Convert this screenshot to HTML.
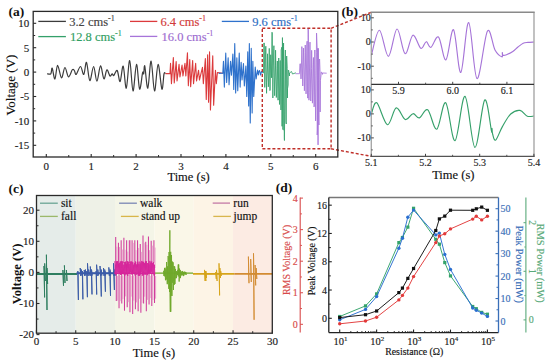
<!DOCTYPE html>
<html><head><meta charset="utf-8"><style>
html,body{margin:0;padding:0;background:#fff;}
svg{display:block;font-family:"Liberation Serif", serif;}
</style></head><body>
<svg width="550" height="361" viewBox="0 0 550 361">
<rect width="550" height="361" fill="#fff"/>
<path d="M47.1,73.8 C47.72,73.8 49.95,74.75 50.8,73.8 C51.65,72.85 51.52,67.23 52.2,68.1 C52.88,68.97 54,79.45 54.9,79 C55.8,78.55 56.5,65.58 57.6,65.4 C58.7,65.22 60.28,77.55 61.5,77.9 C62.72,78.25 63.73,67.68 64.9,67.5 C66.07,67.32 67.25,76.43 68.5,76.8 C69.75,77.17 71.4,70.7 72.4,69.7 C73.4,68.7 73.87,70.02 74.5,70.8 C75.13,71.58 75.2,75.12 76.2,74.4 C77.2,73.68 79.23,66.5 80.5,66.5 C81.77,66.5 82.8,75.08 83.8,74.4 C84.8,73.72 85.5,61.37 86.5,62.4 C87.5,63.43 88.62,79.92 89.8,80.6 C90.98,81.28 92.42,66.4 93.6,66.5 C94.78,66.6 95.75,81.3 96.9,81.2 C98.05,81.1 99.33,66.3 100.5,65.9 C101.67,65.5 102.83,78.13 103.9,78.8 C104.97,79.47 105.88,70.37 106.9,69.9 C107.92,69.43 109.12,75.35 110,76 C110.88,76.65 111.57,73.88 112.2,73.8 C112.83,73.72 112.97,76.05 113.8,75.5 C114.63,74.95 116.15,69.48 117.2,70.5 C118.25,71.52 119.1,82.33 120.1,81.6 C121.1,80.87 122.17,65 123.2,66.1 C124.23,67.2 125.22,89.13 126.3,88.2 C127.38,87.27 128.58,60.03 129.7,60.5 C130.82,60.97 131.87,90.35 133,91 C134.13,91.65 135.4,64.72 136.5,64.4 C137.6,64.08 138.58,87.72 139.6,89.1 C140.62,90.48 141.92,75.25 142.6,72.7 C143.28,70.15 143.33,74.9 143.7,73.8 C144.07,72.7 144.12,63.7 144.8,66.1 C145.48,68.5 146.75,89.03 147.8,88.2 C148.85,87.37 149.98,60.63 151.1,61.1 C152.22,61.57 153.33,90.45 154.5,91 C155.67,91.55 156.87,64.72 158.1,64.4 C159.33,64.08 160.92,87.5 161.9,89.1 C162.88,90.7 163.4,76.63 164,74 C164.6,71.37 165.25,73.42 165.5,73.3" fill="none" stroke="#3c3c3c" stroke-width="1.2" stroke-linejoin="round" />
<polyline points="165.5,73.6 170,73.6 170.55,63.4 171.45,83.8 173.35,57.6 174.25,82.9 176.15,61.5 177.05,80.9 179.05,64.4 179.95,77 182.05,65 182.95,76 184.95,63.4 185.85,76 187.45,52.8 188.35,85.8 189.75,59.6 190.65,86.7 192.65,60.5 193.55,83.8 195.65,63.4 196.55,80.9 198.55,70.2 199.45,80 202.45,67.3 203.35,83.8 205.35,58.6 206.25,99.4 207.65,54.7 208.55,102.3 209.55,51.8 210.45,110 212.75,55.7 213.65,105.2 215.45,70.2 216.35,83.8 217.4,72.5 223,73.2" fill="none" stroke="#dc3a3c" stroke-width="1.1" stroke-linejoin="round" />
<polyline points="218.7,73.4 222.8,73.2 223.45,61.2 224.35,87.1 225.75,53 226.65,82.4 228.15,57.7 229.05,84.8 230.55,61.2 231.45,75.3 232.85,54.1 233.75,89.5 234.75,43.5 235.65,93 236.85,57.7 237.75,90.7 239.25,53 240.15,87.1 241.15,62.4 242.05,80 243.45,63.6 244.35,86 245.85,66 246.75,96.5 247.75,51.8 248.65,106 249.35,43.5 250.25,123 251.25,48.2 252.15,113 252.85,61.2 253.75,96.5 255.25,67 256.15,78.9 257.55,70 258.45,75 258.5,72.4 259.5,70.5 260.5,75 261.5,71.5 263.5,72.6" fill="none" stroke="#2f72cc" stroke-width="1.1" stroke-linejoin="round" />
<polyline points="262.5,72.9 263.5,72.8 263.85,43 264.3,43 264.75,87.4 265.1,77.99 265.65,46.6 265.9,46.2 266.55,93.3 266.7,82.41 267.5,64.98 267.55,53.8 268.3,86.87 268.45,86.2 269.1,59.94 269.25,48.4 269.9,90.59 270.15,90 270.7,54.76 271.5,77.77 271.95,32.2 272.3,32.8 272.85,98 273.1,77.85 273.75,48.4 273.9,45.7 274.65,95.7 274.7,91.75 275.5,65.88 275.55,50.2 276.3,97.5 276.45,97 277.1,68.29 277.35,61 277.9,100.2 278.25,100 278.7,59.14 278.75,58 279.5,104.46 279.65,102.8 280.05,61 280.3,60.54 280.95,110 281.1,94.02 281.15,50 281.9,47.14 282.05,126.3 282.45,37.6 282.7,129.43 283.35,130 283.5,46.65 283.55,43 284.3,137.75 284.45,140.5 285.1,61.09 285.35,50 285.9,121.83 286.25,124 286.55,58 286.7,56 287.25,68.3 287.45,98 287.5,88.71 288.15,85 288.3,70.62 288.55,70 289.45,76 289.5,73 291.5,71.5 292.5,74 295.9,72.8" fill="none" stroke="#34a06a" stroke-width="0.85" stroke-linejoin="round" />
<polyline points="295.5,73.7 299.5,73.7 299.95,63.8 300.4,63.8 300.85,79 301.2,78.47 301.85,46.6 302,49.32 302.75,86 302.8,83.2 303.55,48.5 303.6,48.05 304.4,90.75 304.45,90 305.2,52.4 305.25,45 306,93.96 306.15,93.2 306.8,44.88 307.15,41.2 307.6,98 308.05,98 308.05,28.6 308.4,30 308.95,100.2 309.2,92.63 309.85,44.8 310,42.1 310.75,101 310.8,98.88 311.6,68.38 311.65,50.3 312.4,103.17 312.55,102.6 313.2,64.91 313.45,57.5 314,106.93 314.35,106 314.8,54.07 314.85,50 315.6,120.94 315.75,119 316.4,52.17 316.55,33.1 317.15,48 317.2,134.97 317.45,130 318,48.22 318.05,144.9 318.05,48.5 318.8,121.75 318.95,125 319.25,60 319.6,59.04 320.05,72 320.15,112 320.4,80.5 320.95,76 321.2,72.16 321.55,72 322.45,74.4 322.5,73 326.7,73.2" fill="none" stroke="#a774d9" stroke-width="0.85" stroke-linejoin="round" />
<rect x="262.3" y="28.3" width="68.8" height="120.5" fill="none" stroke="#c0302a" stroke-width="1.4" stroke-dasharray="3,2"/>
<line x1="331.1" y1="28.3" x2="371.5" y2="12.2" stroke="#c0302a" stroke-width="1.4" stroke-dasharray="3,2"/>
<line x1="331.1" y1="148.8" x2="371.2" y2="156.3" stroke="#c0302a" stroke-width="1.4" stroke-dasharray="3,2"/>
<rect x="33.2" y="11.4" width="304.6" height="145.6" fill="none" stroke="#2a2a2a" stroke-width="1.3"/>
<line x1="33.2" y1="23.3" x2="36.2" y2="23.3" stroke="#2a2a2a" stroke-width="1.1" />
<text x="29.3" y="27.1" font-size="11" fill="#222" stroke="#222" stroke-width="0.15" text-anchor="end" font-weight="normal" >10</text>
<line x1="33.2" y1="47.7" x2="36.2" y2="47.7" stroke="#2a2a2a" stroke-width="1.1" />
<text x="29.3" y="51.5" font-size="11" fill="#222" stroke="#222" stroke-width="0.15" text-anchor="end" font-weight="normal" >5</text>
<line x1="33.2" y1="72.1" x2="36.2" y2="72.1" stroke="#2a2a2a" stroke-width="1.1" />
<text x="29.3" y="75.9" font-size="11" fill="#222" stroke="#222" stroke-width="0.15" text-anchor="end" font-weight="normal" >0</text>
<line x1="33.2" y1="96.5" x2="36.2" y2="96.5" stroke="#2a2a2a" stroke-width="1.1" />
<text x="29.3" y="100.3" font-size="11" fill="#222" stroke="#222" stroke-width="0.15" text-anchor="end" font-weight="normal" >-5</text>
<line x1="33.2" y1="120.9" x2="36.2" y2="120.9" stroke="#2a2a2a" stroke-width="1.1" />
<text x="29.3" y="124.7" font-size="11" fill="#222" stroke="#222" stroke-width="0.15" text-anchor="end" font-weight="normal" >-10</text>
<line x1="33.2" y1="145.3" x2="36.2" y2="145.3" stroke="#2a2a2a" stroke-width="1.1" />
<text x="29.3" y="149.1" font-size="11" fill="#222" stroke="#222" stroke-width="0.15" text-anchor="end" font-weight="normal" >-15</text>
<line x1="33.2" y1="35.5" x2="35.2" y2="35.5" stroke="#2a2a2a" stroke-width="1.0" />
<line x1="33.2" y1="59.9" x2="35.2" y2="59.9" stroke="#2a2a2a" stroke-width="1.0" />
<line x1="33.2" y1="84.3" x2="35.2" y2="84.3" stroke="#2a2a2a" stroke-width="1.0" />
<line x1="33.2" y1="108.7" x2="35.2" y2="108.7" stroke="#2a2a2a" stroke-width="1.0" />
<line x1="33.2" y1="133.1" x2="35.2" y2="133.1" stroke="#2a2a2a" stroke-width="1.0" />
<line x1="46.3" y1="157" x2="46.3" y2="154" stroke="#2a2a2a" stroke-width="1.1" />
<text x="46.3" y="169.6" font-size="11" fill="#222" stroke="#222" stroke-width="0.15" text-anchor="middle" font-weight="normal" >0</text>
<line x1="91.2" y1="157" x2="91.2" y2="154" stroke="#2a2a2a" stroke-width="1.1" />
<text x="91.2" y="169.6" font-size="11" fill="#222" stroke="#222" stroke-width="0.15" text-anchor="middle" font-weight="normal" >1</text>
<line x1="136.1" y1="157" x2="136.1" y2="154" stroke="#2a2a2a" stroke-width="1.1" />
<text x="136.1" y="169.6" font-size="11" fill="#222" stroke="#222" stroke-width="0.15" text-anchor="middle" font-weight="normal" >2</text>
<line x1="181" y1="157" x2="181" y2="154" stroke="#2a2a2a" stroke-width="1.1" />
<text x="181" y="169.6" font-size="11" fill="#222" stroke="#222" stroke-width="0.15" text-anchor="middle" font-weight="normal" >3</text>
<line x1="225.9" y1="157" x2="225.9" y2="154" stroke="#2a2a2a" stroke-width="1.1" />
<text x="225.9" y="169.6" font-size="11" fill="#222" stroke="#222" stroke-width="0.15" text-anchor="middle" font-weight="normal" >4</text>
<line x1="270.8" y1="157" x2="270.8" y2="154" stroke="#2a2a2a" stroke-width="1.1" />
<text x="270.8" y="169.6" font-size="11" fill="#222" stroke="#222" stroke-width="0.15" text-anchor="middle" font-weight="normal" >5</text>
<line x1="315.7" y1="157" x2="315.7" y2="154" stroke="#2a2a2a" stroke-width="1.1" />
<text x="315.7" y="169.6" font-size="11" fill="#222" stroke="#222" stroke-width="0.15" text-anchor="middle" font-weight="normal" >6</text>
<line x1="68.75" y1="157" x2="68.75" y2="155" stroke="#2a2a2a" stroke-width="1.0" />
<line x1="113.65" y1="157" x2="113.65" y2="155" stroke="#2a2a2a" stroke-width="1.0" />
<line x1="158.55" y1="157" x2="158.55" y2="155" stroke="#2a2a2a" stroke-width="1.0" />
<line x1="203.45" y1="157" x2="203.45" y2="155" stroke="#2a2a2a" stroke-width="1.0" />
<line x1="248.35" y1="157" x2="248.35" y2="155" stroke="#2a2a2a" stroke-width="1.0" />
<line x1="293.25" y1="157" x2="293.25" y2="155" stroke="#2a2a2a" stroke-width="1.0" />
<text x="188.6" y="181" font-size="12.5" fill="#111" stroke="#111" stroke-width="0.15" text-anchor="middle" font-weight="normal" >Time (s)</text>
<text transform="translate(14.6,85) rotate(-90)" font-size="13" fill="#111" stroke="#111" stroke-width="0.15" text-anchor="middle" font-weight="normal">Voltage (V)</text>
<text x="8.6" y="16.2" font-size="13.5" fill="#111" text-anchor="start" font-weight="bold" >(a)</text>
<line x1="38.3" y1="21.4" x2="65.9" y2="21.4" stroke="#3c3c3c" stroke-width="1.3" />
<text x="69.2" y="25.7" font-size="12.5" fill="#444" stroke="#444" stroke-width="0.15">3.2 cms<tspan font-size="8" dy="-5">-1</tspan></text>
<line x1="130" y1="21.4" x2="157.3" y2="21.4" stroke="#dc3a3c" stroke-width="1.3" />
<text x="160.4" y="25.7" font-size="12.5" fill="#d23a3a" stroke="#d23a3a" stroke-width="0.15">6.4 cms<tspan font-size="8" dy="-5">-1</tspan></text>
<line x1="221.8" y1="21.4" x2="249" y2="21.4" stroke="#2f72cc" stroke-width="1.3" />
<text x="252.2" y="25.7" font-size="12.5" fill="#2f6fc4" stroke="#2f6fc4" stroke-width="0.15">9.6 cms<tspan font-size="8" dy="-5">-1</tspan></text>
<line x1="38.3" y1="36.6" x2="65.9" y2="36.6" stroke="#34a06a" stroke-width="1.3" />
<text x="69.9" y="40.9" font-size="12.5" fill="#2f9e62" stroke="#2f9e62" stroke-width="0.15">12.8 cms<tspan font-size="8" dy="-5">-1</tspan></text>
<line x1="130" y1="36.4" x2="157.3" y2="36.4" stroke="#a774d9" stroke-width="1.3" />
<text x="161.5" y="40.7" font-size="12.5" fill="#9d6cd0" stroke="#9d6cd0" stroke-width="0.15">16.0 cms<tspan font-size="8" dy="-5">-1</tspan></text>
<path d="M371.3,55.5 C372.65,51.3 376.55,30.15 379.4,30.3 C382.25,30.45 385.47,56.62 388.4,56.4 C391.33,56.18 394.22,29.45 397,29 C399.78,28.55 402.45,52.67 405.1,53.7 C407.75,54.73 410.28,36.1 412.9,35.2 C415.52,34.3 418.58,47.22 420.8,48.3 C423.02,49.38 424.52,41.85 426.2,41.7 C427.88,41.55 428.85,48.18 430.9,47.4 C432.95,46.62 436,34.92 438.5,37 C441,39.08 443.4,61.1 445.9,59.9 C448.4,58.7 451.02,27.72 453.5,29.8 C455.98,31.88 458.27,73.62 460.8,72.4 C463.33,71.18 466,21.47 468.7,22.5 C471.4,23.53 473.88,77.15 477,78.6 C480.12,80.05 484.4,35.97 487.4,31.2 C490.4,26.43 492.6,45.73 495,50 C497.4,54.27 500.58,56.38 501.8,56.8 C503.02,57.22 502.1,52.77 502.3,52.5 C502.5,52.23 502.3,54.83 503,55.2 C503.7,55.57 504.87,55.3 506.5,54.7 C508.13,54.1 510.88,52.88 512.8,51.6 C514.72,50.32 516.27,48.38 518,47 C519.73,45.62 521.53,44.07 523.2,43.3 C524.87,42.53 526.2,42.62 528,42.4 C529.8,42.18 533,42.07 534,42" fill="none" stroke="#a674d8" stroke-width="1.15" stroke-linejoin="round" />
<path d="M371.3,114 C372.22,112.13 374.12,101.02 376.8,102.8 C379.48,104.58 384.17,123.85 387.4,124.7 C390.63,125.55 393.22,108.77 396.2,107.9 C399.18,107.03 402.5,118.53 405.3,119.5 C408.1,120.47 410.65,113.97 413,113.7 C415.35,113.43 416.95,118.55 419.4,117.9 C421.85,117.25 424.8,107.92 427.7,109.8 C430.6,111.68 433.8,130.38 436.8,129.2 C439.8,128.02 442.67,100.78 445.7,102.7 C448.73,104.62 451.78,141.75 455,140.7 C458.22,139.65 461.68,95.28 465,96.4 C468.32,97.52 471.62,146.8 474.9,147.4 C478.18,148 481.93,102.73 484.7,100 C487.47,97.27 490.28,126.25 491.5,131 C492.72,135.75 491.82,128 492,128.5 C492.18,129 491.98,132.07 492.6,134 C493.22,135.93 494.07,141.33 495.7,140.1 C497.33,138.87 499.9,130.95 502.4,126.6 C504.9,122.25 507.77,116.7 510.7,114 C513.63,111.3 517.23,110.03 520,110.4 C522.77,110.77 524.97,115.27 527.3,116.2 C529.63,117.13 532.88,116.03 534,116" fill="none" stroke="#35a06a" stroke-width="1.15" stroke-linejoin="round" />
<path d="M371.3,156.3 L371.3,12.2 M534.0,12.2 L534.0,156.3" fill="none" stroke="#a8a8a8" stroke-width="1.4"/>
<line x1="370.6" y1="12.2" x2="534.7" y2="12.2" stroke="#8a8a8a" stroke-width="1.5" />
<line x1="370.6" y1="156.3" x2="534.7" y2="156.3" stroke="#555" stroke-width="1.3" />
<line x1="371.3" y1="84.3" x2="534" y2="84.3" stroke="#333" stroke-width="1.2" />
<line x1="371.3" y1="17.8" x2="373.8" y2="17.8" stroke="#444" stroke-width="1.0" />
<text x="370.8" y="21.2" font-size="10" fill="#222" stroke="#222" stroke-width="0.15" text-anchor="end" font-weight="normal" >10</text>
<line x1="371.3" y1="42" x2="373.8" y2="42" stroke="#444" stroke-width="1.0" />
<text x="370.8" y="45.4" font-size="10" fill="#222" stroke="#222" stroke-width="0.15" text-anchor="end" font-weight="normal" >0</text>
<line x1="371.3" y1="66.2" x2="373.8" y2="66.2" stroke="#444" stroke-width="1.0" />
<text x="370.8" y="69.6" font-size="10" fill="#222" stroke="#222" stroke-width="0.15" text-anchor="end" font-weight="normal" >-10</text>
<line x1="371.3" y1="29.9" x2="372.8" y2="29.9" stroke="#444" stroke-width="0.9" />
<line x1="371.3" y1="54.1" x2="372.8" y2="54.1" stroke="#444" stroke-width="0.9" />
<line x1="371.3" y1="78.3" x2="372.8" y2="78.3" stroke="#444" stroke-width="0.9" />
<line x1="371.3" y1="89.9" x2="373.8" y2="89.9" stroke="#444" stroke-width="1.0" />
<text x="370.8" y="93.3" font-size="10" fill="#222" stroke="#222" stroke-width="0.15" text-anchor="end" font-weight="normal" >10</text>
<line x1="371.3" y1="113.9" x2="373.8" y2="113.9" stroke="#444" stroke-width="1.0" />
<text x="370.8" y="117.3" font-size="10" fill="#222" stroke="#222" stroke-width="0.15" text-anchor="end" font-weight="normal" >0</text>
<line x1="371.3" y1="137.9" x2="373.8" y2="137.9" stroke="#444" stroke-width="1.0" />
<text x="370.8" y="141.3" font-size="10" fill="#222" stroke="#222" stroke-width="0.15" text-anchor="end" font-weight="normal" >-10</text>
<line x1="371.3" y1="101.9" x2="372.8" y2="101.9" stroke="#444" stroke-width="0.9" />
<line x1="371.3" y1="125.9" x2="372.8" y2="125.9" stroke="#444" stroke-width="0.9" />
<line x1="371.3" y1="149.9" x2="372.8" y2="149.9" stroke="#444" stroke-width="0.9" />
<line x1="398.51" y1="84.3" x2="398.51" y2="81.8" stroke="#444" stroke-width="1.0" />
<text x="398.51" y="93.9" font-size="10" fill="#222" stroke="#222" stroke-width="0.15" text-anchor="middle" font-weight="normal" >5.9</text>
<line x1="452.71" y1="84.3" x2="452.71" y2="81.8" stroke="#444" stroke-width="1.0" />
<text x="452.71" y="93.9" font-size="10" fill="#222" stroke="#222" stroke-width="0.15" text-anchor="middle" font-weight="normal" >6.0</text>
<line x1="506.91" y1="84.3" x2="506.91" y2="81.8" stroke="#444" stroke-width="1.0" />
<text x="506.91" y="93.9" font-size="10" fill="#222" stroke="#222" stroke-width="0.15" text-anchor="middle" font-weight="normal" >6.1</text>
<line x1="425.61" y1="84.3" x2="425.61" y2="82.7" stroke="#444" stroke-width="0.9" />
<line x1="479.81" y1="84.3" x2="479.81" y2="82.7" stroke="#444" stroke-width="0.9" />
<line x1="371.3" y1="156.3" x2="371.3" y2="153.8" stroke="#444" stroke-width="1.0" />
<text x="371.3" y="165.5" font-size="10" fill="#222" stroke="#222" stroke-width="0.15" text-anchor="middle" font-weight="normal" >5.1</text>
<line x1="425.5" y1="156.3" x2="425.5" y2="153.8" stroke="#444" stroke-width="1.0" />
<text x="425.5" y="165.5" font-size="10" fill="#222" stroke="#222" stroke-width="0.15" text-anchor="middle" font-weight="normal" >5.2</text>
<line x1="479.7" y1="156.3" x2="479.7" y2="153.8" stroke="#444" stroke-width="1.0" />
<text x="479.7" y="165.5" font-size="10" fill="#222" stroke="#222" stroke-width="0.15" text-anchor="middle" font-weight="normal" >5.3</text>
<line x1="533.9" y1="156.3" x2="533.9" y2="153.8" stroke="#444" stroke-width="1.0" />
<text x="533.9" y="165.5" font-size="10" fill="#222" stroke="#222" stroke-width="0.15" text-anchor="middle" font-weight="normal" >5.4</text>
<line x1="398.4" y1="156.3" x2="398.4" y2="154.8" stroke="#444" stroke-width="0.9" />
<line x1="452.6" y1="156.3" x2="452.6" y2="154.8" stroke="#444" stroke-width="0.9" />
<line x1="506.8" y1="156.3" x2="506.8" y2="154.8" stroke="#444" stroke-width="0.9" />
<text x="453.3" y="179" font-size="12.5" fill="#111" stroke="#111" stroke-width="0.15" text-anchor="middle" font-weight="normal" >Time (s)</text>
<text x="341.5" y="16.2" font-size="13.5" fill="#111" text-anchor="start" font-weight="bold" >(b)</text>
<rect x="36.5" y="195.5" width="39.23" height="137.7" fill="#e5ece9"/>
<rect x="75.73" y="195.5" width="39.33" height="137.7" fill="#eef1e7"/>
<rect x="115.06" y="195.5" width="39.33" height="137.7" fill="#f4f5e7"/>
<rect x="154.39" y="195.5" width="39.33" height="137.7" fill="#faf7e8"/>
<rect x="193.72" y="195.5" width="39.33" height="137.7" fill="#fdf4e6"/>
<rect x="233.05" y="195.5" width="39.25" height="137.7" fill="#fcebe3"/>
<line x1="36.5" y1="274" x2="77" y2="274" stroke="#2f7f60" stroke-width="2.0" />
<polyline points="43.3,274 44.3,274 44,266 44.6,297.4 44.3,274 45,274 44.7,263.4 45.3,281 45,274 46.7,274 46.4,254.7 47,310 46.7,274 47.3,274 47,268 47.6,284 47.3,274 63.2,274 62.9,270 63.5,285.8 63.2,274 64.7,274 64.4,265.4 65,283 64.7,274 66.7,274 66.4,270 67,281 66.7,274" fill="none" stroke="#2f7f60" stroke-width="1.0" stroke-linejoin="round" />
<line x1="76.5" y1="273.2" x2="114.7" y2="273.2" stroke="#3b5ca8" stroke-width="2.0" />
<polyline points="77.1,273.2 78.1,273.2 77.8,271 78.4,300 78.1,273.2 80.5,273.2 80.2,268 80.8,276 80.5,273.2 81.7,273.2 81.4,269.5 82,275.5 81.7,273.2 82.6,273.2 82.3,271 82.9,299.3 82.6,273.2 84.5,273.2 84.2,270 84.8,276 84.5,273.2 85.7,273.2 85.4,269.5 86,275.5 85.7,273.2 87.1,273.2 86.8,271 87.4,297.2 87.1,273.2 87.8,273.2 87.5,263.3 88.1,276 87.8,273.2 89,273.2 88.7,269.5 89.3,275.5 89,273.2 91.7,273.2 91.4,271 92,294.4 91.7,273.2 90.6,273.2 90.3,266.5 90.9,276 90.6,273.2 91.8,273.2 91.5,269.5 92.1,275.5 91.8,273.2 96.4,273.2 96.1,271 96.7,294.5 96.4,273.2 96.9,273.2 96.6,264.7 97.2,276 96.9,273.2 98.1,273.2 97.8,269.5 98.4,275.5 98.1,273.2 101,273.2 100.7,271 101.3,296.5 101,273.2 100.3,273.2 100,266 100.6,276 100.3,273.2 101.5,273.2 101.2,269.5 101.8,275.5 101.5,273.2 105.1,273.2 104.8,271 105.4,291.7 105.1,273.2 103.8,273.2 103.5,268 104.1,276 103.8,273.2 105,273.2 104.7,269.5 105.3,275.5 105,273.2 110.2,273.2 109.9,271 110.5,295.8 110.2,273.2 109.1,273.2 108.8,267.4 109.4,276 109.1,273.2 110.3,273.2 110,269.5 110.6,275.5 110.3,273.2 114.1,273.2 113.8,271 114.4,290 114.1,273.2 113.8,273.2 113.5,263.3 114.1,276 113.8,273.2 115,273.2 114.7,269.5 115.3,275.5 115,273.2" fill="none" stroke="#3b5ca8" stroke-width="1.0" stroke-linejoin="round" />
<line x1="114.4" y1="273.2" x2="155.2" y2="273.2" stroke="#d6249a" stroke-width="1.6" />
<line x1="115.7" y1="236.9" x2="115.7" y2="266.52" stroke="#d03c9c" stroke-width="1.05" />
<line x1="116.8" y1="246.72" x2="116.8" y2="268" stroke="#e58cc4" stroke-width="0.8" />
<line x1="116.3" y1="273.7" x2="116.3" y2="301" stroke="#d03c9c" stroke-width="1.05" />
<line x1="117.4" y1="276" x2="117.4" y2="300.66" stroke="#e58cc4" stroke-width="0.8" />
<line x1="118.43" y1="242.7" x2="118.43" y2="267.08" stroke="#d03c9c" stroke-width="1.05" />
<line x1="119.53" y1="247.05" x2="119.53" y2="268" stroke="#e58cc4" stroke-width="0.8" />
<line x1="119.03" y1="270.74" x2="119.03" y2="308.3" stroke="#d03c9c" stroke-width="1.05" />
<line x1="120.13" y1="276" x2="120.13" y2="301.12" stroke="#e58cc4" stroke-width="0.8" />
<line x1="121.16" y1="240.3" x2="121.16" y2="268.3" stroke="#d03c9c" stroke-width="1.05" />
<line x1="122.26" y1="249.52" x2="122.26" y2="268" stroke="#e58cc4" stroke-width="0.8" />
<line x1="121.76" y1="270.38" x2="121.76" y2="303.4" stroke="#d03c9c" stroke-width="1.05" />
<line x1="122.86" y1="276" x2="122.86" y2="299.03" stroke="#e58cc4" stroke-width="0.8" />
<line x1="123.89" y1="237.8" x2="123.89" y2="262.91" stroke="#d03c9c" stroke-width="1.05" />
<line x1="124.99" y1="249.72" x2="124.99" y2="268" stroke="#e58cc4" stroke-width="0.8" />
<line x1="124.49" y1="272.77" x2="124.49" y2="310.7" stroke="#d03c9c" stroke-width="1.05" />
<line x1="125.59" y1="276" x2="125.59" y2="296.42" stroke="#e58cc4" stroke-width="0.8" />
<line x1="126.62" y1="240.3" x2="126.62" y2="271.82" stroke="#d03c9c" stroke-width="1.05" />
<line x1="127.72" y1="251.58" x2="127.72" y2="268" stroke="#e58cc4" stroke-width="0.8" />
<line x1="127.22" y1="272.62" x2="127.22" y2="307.3" stroke="#d03c9c" stroke-width="1.05" />
<line x1="128.32" y1="276" x2="128.32" y2="302.16" stroke="#e58cc4" stroke-width="0.8" />
<line x1="129.35" y1="240.3" x2="129.35" y2="263.57" stroke="#d03c9c" stroke-width="1.05" />
<line x1="130.45" y1="240.18" x2="130.45" y2="268" stroke="#e58cc4" stroke-width="0.8" />
<line x1="129.95" y1="272.11" x2="129.95" y2="312.2" stroke="#d03c9c" stroke-width="1.05" />
<line x1="131.05" y1="276" x2="131.05" y2="296.6" stroke="#e58cc4" stroke-width="0.8" />
<line x1="132.08" y1="240.3" x2="132.08" y2="263.9" stroke="#d03c9c" stroke-width="1.05" />
<line x1="133.18" y1="242.9" x2="133.18" y2="268" stroke="#e58cc4" stroke-width="0.8" />
<line x1="132.68" y1="270.12" x2="132.68" y2="314.1" stroke="#d03c9c" stroke-width="1.05" />
<line x1="133.78" y1="276" x2="133.78" y2="300.64" stroke="#e58cc4" stroke-width="0.8" />
<line x1="134.81" y1="240.3" x2="134.81" y2="266.41" stroke="#d03c9c" stroke-width="1.05" />
<line x1="135.91" y1="250.11" x2="135.91" y2="268" stroke="#e58cc4" stroke-width="0.8" />
<line x1="135.41" y1="272.08" x2="135.41" y2="309.3" stroke="#d03c9c" stroke-width="1.05" />
<line x1="136.51" y1="276" x2="136.51" y2="302.4" stroke="#e58cc4" stroke-width="0.8" />
<line x1="137.54" y1="240.3" x2="137.54" y2="267" stroke="#d03c9c" stroke-width="1.05" />
<line x1="138.64" y1="247.95" x2="138.64" y2="268" stroke="#e58cc4" stroke-width="0.8" />
<line x1="138.14" y1="271.83" x2="138.14" y2="311.2" stroke="#d03c9c" stroke-width="1.05" />
<line x1="139.24" y1="276" x2="139.24" y2="298.78" stroke="#e58cc4" stroke-width="0.8" />
<line x1="140.27" y1="244.1" x2="140.27" y2="271.98" stroke="#d03c9c" stroke-width="1.05" />
<line x1="141.37" y1="251.95" x2="141.37" y2="268" stroke="#e58cc4" stroke-width="0.8" />
<line x1="140.87" y1="273.36" x2="140.87" y2="312.7" stroke="#d03c9c" stroke-width="1.05" />
<line x1="141.97" y1="276" x2="141.97" y2="303.08" stroke="#e58cc4" stroke-width="0.8" />
<line x1="143" y1="235.4" x2="143" y2="265.15" stroke="#d03c9c" stroke-width="1.05" />
<line x1="144.1" y1="242.76" x2="144.1" y2="268" stroke="#e58cc4" stroke-width="0.8" />
<line x1="143.6" y1="271.16" x2="143.6" y2="303.4" stroke="#d03c9c" stroke-width="1.05" />
<line x1="144.7" y1="276" x2="144.7" y2="296.7" stroke="#e58cc4" stroke-width="0.8" />
<line x1="145.73" y1="241.7" x2="145.73" y2="269.66" stroke="#d03c9c" stroke-width="1.05" />
<line x1="146.83" y1="244.8" x2="146.83" y2="268" stroke="#e58cc4" stroke-width="0.8" />
<line x1="146.33" y1="273.39" x2="146.33" y2="311.2" stroke="#d03c9c" stroke-width="1.05" />
<line x1="147.43" y1="276" x2="147.43" y2="299.87" stroke="#e58cc4" stroke-width="0.8" />
<line x1="148.46" y1="236.4" x2="148.46" y2="271.58" stroke="#d03c9c" stroke-width="1.05" />
<line x1="149.56" y1="250.17" x2="149.56" y2="268" stroke="#e58cc4" stroke-width="0.8" />
<line x1="149.06" y1="270" x2="149.06" y2="304.4" stroke="#d03c9c" stroke-width="1.05" />
<line x1="150.16" y1="276" x2="150.16" y2="298.1" stroke="#e58cc4" stroke-width="0.8" />
<line x1="151.19" y1="240.7" x2="151.19" y2="271.1" stroke="#d03c9c" stroke-width="1.05" />
<line x1="152.29" y1="245.64" x2="152.29" y2="268" stroke="#e58cc4" stroke-width="0.8" />
<line x1="151.79" y1="273.92" x2="151.79" y2="306" stroke="#d03c9c" stroke-width="1.05" />
<line x1="152.89" y1="276" x2="152.89" y2="299.97" stroke="#e58cc4" stroke-width="0.8" />
<line x1="153.92" y1="240.3" x2="153.92" y2="262.73" stroke="#d03c9c" stroke-width="1.05" />
<line x1="155.02" y1="247.55" x2="155.02" y2="268" stroke="#e58cc4" stroke-width="0.8" />
<line x1="154.52" y1="273.11" x2="154.52" y2="303" stroke="#d03c9c" stroke-width="1.05" />
<line x1="155.62" y1="276" x2="155.62" y2="298.7" stroke="#e58cc4" stroke-width="0.8" />
<polyline points="114.8,261.15 115.25,273.33 115.7,264.66 116.15,275.03 116.6,261.27 117.05,272.99 117.5,261.2 117.95,272.24 118.4,263.99 118.85,272.71 119.3,263.04 119.75,273.79 120.2,261.56 120.65,274.93 121.1,261.32 121.55,274.57 122,261.27 122.45,273.68 122.9,261.65 123.35,273.08 123.8,264.68 124.25,275.21 124.7,262.02 125.15,275.54 125.6,261.64 126.05,273.58 126.5,264.22 126.95,274.57 127.4,261.2 127.85,275.96 128.3,261.65 128.75,273.03 129.2,263.89 129.65,273.32 130.1,261.99 130.55,272.29 131,261.16 131.45,274.33 131.9,261.77 132.35,274.41 132.8,262.29 133.25,273.81 133.7,264.64 134.15,273.93 134.6,263.1 135.05,275.47 135.5,261.53 135.95,272.62 136.4,264.43 136.85,275.27 137.3,261.8 137.75,272.76 138.2,263.76 138.65,275.76 139.1,261.59 139.55,275.8 140,264.33 140.45,274.41 140.9,262.49 141.35,272.42 141.8,260.95 142.25,275.85 142.7,261.75 143.15,274.82 143.6,261.83 144.05,275.29 144.5,263.19 144.95,273.17 145.4,261.5 145.85,274.88 146.3,261.08 146.75,272.91 147.2,263.04 147.65,275.41 148.1,263.26 148.55,273.12 149,264.47 149.45,272.82 149.9,260.87 150.35,273.08 150.8,262.58 151.25,272.24 151.7,261.51 152.15,273.48 152.6,263.09 153.05,272.53 153.5,262.25 153.95,275.56 154.4,264.72 154.85,274.63" fill="none" stroke="#d6249a" stroke-width="0.9" stroke-linejoin="round" />
<line x1="155.2" y1="273.2" x2="193" y2="273.2" stroke="#6fa82a" stroke-width="1.2" />
<polyline points="163.05,271 163.5,271 163.9,275.74 163.95,276 164.3,270.87 164.55,268 164.7,276.35 165.1,267.7 165.45,280 165.5,280.25 165.9,269.25 166.3,279.58 166.55,262 166.7,263.67 167.1,284.27 167.45,284 167.5,266.45 167.9,282.52 168.05,256 168.3,256.8 168.7,288.8 168.95,288 169.05,252 169.1,258.65 169.5,292 169.85,230.3 169.9,257.04 169.95,292 170.3,311.8 170.7,251.82 170.75,311.8 171.05,255 171.1,295.51 171.5,255 171.9,287.02 171.95,296 172.3,261.5 172.55,262 172.7,282.76 173.1,262.27 173.45,290 173.5,281.46 173.9,268.64 174.05,266 174.3,284.8 174.7,266.53 174.95,284 175.1,278.91 175.5,268.92 175.55,270 175.9,278.4 176.3,271.09 176.45,278 176.7,276.06 177.05,271.5 177.1,271.9 177.5,275 177.9,269.88 177.95,275 178.25,264.5 178.3,276.4 178.7,264.5 179.1,277.42 179.15,281.6 179.5,268.59 179.55,269 179.9,278.28 180.3,269.96 180.45,278 180.7,275.96 181.1,271.42 181.5,275.36 181.9,271.59 182.3,275.08 182.55,271 182.7,271.13 183.1,275.97 183.45,276 183.5,272.09 183.9,275.49 184.3,271.59 184.7,274.33 185.1,272.28 185.5,274.52 185.55,272 185.9,271.97 186.45,275" fill="none" stroke="#6fa82a" stroke-width="0.9" stroke-linejoin="round" />
<line x1="193" y1="273.9" x2="234.3" y2="273.9" stroke="#d6a41a" stroke-width="1.8" />
<polyline points="203.8,273.9 204.8,273.9 204.5,269.9 205.1,281 204.8,273.9 205.6,273.9 205.3,271 205.9,281 205.6,273.9 206.2,273.9 205.9,271 206.5,278 206.2,273.9 216,273.9 215.7,272 216.3,279 216,273.9 216.8,273.9 216.5,269.9 217.1,281 216.8,273.9 219.3,273.9 219,263.3 219.6,295.4 219.3,273.9 220.2,273.9 219.9,268 220.5,278 220.2,273.9 221,273.9 220.7,271 221.3,276 221,273.9" fill="none" stroke="#d6a41a" stroke-width="0.9" stroke-linejoin="round" />
<line x1="234.3" y1="273.9" x2="272.3" y2="273.9" stroke="#d38b32" stroke-width="1.8" />
<polyline points="247.7,273.9 248.7,273.9 248.4,256.6 249,283.2 248.7,273.9 251,273.9 250.7,259 251.3,282 251,273.9 253.8,273.9 253.5,253.3 254.1,319.8 253.8,273.9 255.4,273.9 255.1,265 255.7,285.4 255.4,273.9 256.5,273.9 256.2,268 256.8,279 256.5,273.9" fill="none" stroke="#d38b32" stroke-width="0.9" stroke-linejoin="round" />
<rect x="36.5" y="195.5" width="235.8" height="137.7" fill="none" stroke="#2a2a2a" stroke-width="1.3"/>
<line x1="36.5" y1="210.2" x2="39.5" y2="210.2" stroke="#2a2a2a" stroke-width="1.1" />
<text x="34" y="214" font-size="11" fill="#222" stroke="#222" stroke-width="0.15" text-anchor="end" font-weight="normal" >20</text>
<line x1="36.5" y1="241.3" x2="39.5" y2="241.3" stroke="#2a2a2a" stroke-width="1.1" />
<text x="34" y="245.1" font-size="11" fill="#222" stroke="#222" stroke-width="0.15" text-anchor="end" font-weight="normal" >10</text>
<line x1="36.5" y1="272.4" x2="39.5" y2="272.4" stroke="#2a2a2a" stroke-width="1.1" />
<text x="34" y="276.2" font-size="11" fill="#222" stroke="#222" stroke-width="0.15" text-anchor="end" font-weight="normal" >0</text>
<line x1="36.5" y1="303.5" x2="39.5" y2="303.5" stroke="#2a2a2a" stroke-width="1.1" />
<text x="34" y="307.3" font-size="11" fill="#222" stroke="#222" stroke-width="0.15" text-anchor="end" font-weight="normal" >-10</text>
<line x1="36.5" y1="334.6" x2="39.5" y2="334.6" stroke="#2a2a2a" stroke-width="1.1" />
<text x="34" y="338.4" font-size="11" fill="#222" stroke="#222" stroke-width="0.15" text-anchor="end" font-weight="normal" >-20</text>
<line x1="36.5" y1="225.75" x2="38.5" y2="225.75" stroke="#2a2a2a" stroke-width="1.0" />
<line x1="36.5" y1="256.85" x2="38.5" y2="256.85" stroke="#2a2a2a" stroke-width="1.0" />
<line x1="36.5" y1="287.95" x2="38.5" y2="287.95" stroke="#2a2a2a" stroke-width="1.0" />
<line x1="36.5" y1="319.05" x2="38.5" y2="319.05" stroke="#2a2a2a" stroke-width="1.0" />
<line x1="36.4" y1="333.2" x2="36.4" y2="330.2" stroke="#2a2a2a" stroke-width="1.1" />
<text x="36.4" y="344.6" font-size="11" fill="#222" stroke="#222" stroke-width="0.15" text-anchor="middle" font-weight="normal" >0</text>
<line x1="75.73" y1="333.2" x2="75.73" y2="330.2" stroke="#2a2a2a" stroke-width="1.1" />
<text x="75.73" y="344.6" font-size="11" fill="#222" stroke="#222" stroke-width="0.15" text-anchor="middle" font-weight="normal" >5</text>
<line x1="115.06" y1="333.2" x2="115.06" y2="330.2" stroke="#2a2a2a" stroke-width="1.1" />
<text x="115.06" y="344.6" font-size="11" fill="#222" stroke="#222" stroke-width="0.15" text-anchor="middle" font-weight="normal" >10</text>
<line x1="154.39" y1="333.2" x2="154.39" y2="330.2" stroke="#2a2a2a" stroke-width="1.1" />
<text x="154.39" y="344.6" font-size="11" fill="#222" stroke="#222" stroke-width="0.15" text-anchor="middle" font-weight="normal" >15</text>
<line x1="193.72" y1="333.2" x2="193.72" y2="330.2" stroke="#2a2a2a" stroke-width="1.1" />
<text x="193.72" y="344.6" font-size="11" fill="#222" stroke="#222" stroke-width="0.15" text-anchor="middle" font-weight="normal" >20</text>
<line x1="233.05" y1="333.2" x2="233.05" y2="330.2" stroke="#2a2a2a" stroke-width="1.1" />
<text x="233.05" y="344.6" font-size="11" fill="#222" stroke="#222" stroke-width="0.15" text-anchor="middle" font-weight="normal" >25</text>
<line x1="272.38" y1="333.2" x2="272.38" y2="330.2" stroke="#2a2a2a" stroke-width="1.1" />
<text x="272.38" y="344.6" font-size="11" fill="#222" stroke="#222" stroke-width="0.15" text-anchor="middle" font-weight="normal" >30</text>
<line x1="56.06" y1="333.2" x2="56.06" y2="331.2" stroke="#2a2a2a" stroke-width="1.0" />
<line x1="95.39" y1="333.2" x2="95.39" y2="331.2" stroke="#2a2a2a" stroke-width="1.0" />
<line x1="134.72" y1="333.2" x2="134.72" y2="331.2" stroke="#2a2a2a" stroke-width="1.0" />
<line x1="174.06" y1="333.2" x2="174.06" y2="331.2" stroke="#2a2a2a" stroke-width="1.0" />
<line x1="213.38" y1="333.2" x2="213.38" y2="331.2" stroke="#2a2a2a" stroke-width="1.0" />
<line x1="252.72" y1="333.2" x2="252.72" y2="331.2" stroke="#2a2a2a" stroke-width="1.0" />
<text x="154" y="357" font-size="12.5" fill="#111" stroke="#111" stroke-width="0.15" text-anchor="middle" font-weight="normal" >Time (s)</text>
<text transform="translate(21.0,273.8) rotate(-90)" font-size="12.6" fill="#111" text-anchor="middle" font-weight="bold">Voltage (V)</text>
<text x="8.6" y="193" font-size="13.5" fill="#111" text-anchor="start" font-weight="bold" >(c)</text>
<line x1="40" y1="203.2" x2="57.8" y2="203.2" stroke="#6aa594" stroke-width="1.3" />
<text x="60.9" y="206.8" font-size="11.5" fill="#111" stroke="#111" stroke-width="0.15" text-anchor="start" font-weight="normal" >sit</text>
<line x1="40" y1="216.4" x2="57.8" y2="216.4" stroke="#9bb86a" stroke-width="1.3" />
<text x="61" y="220" font-size="11.5" fill="#111" stroke="#111" stroke-width="0.15" text-anchor="start" font-weight="normal" >fall</text>
<line x1="119.1" y1="203.2" x2="136.9" y2="203.2" stroke="#7a86b4" stroke-width="1.3" />
<text x="140" y="206.8" font-size="11.5" fill="#111" stroke="#111" stroke-width="0.15" text-anchor="start" font-weight="normal" >walk</text>
<line x1="120.9" y1="216.4" x2="138.7" y2="216.4" stroke="#d8b64a" stroke-width="1.3" />
<text x="141.3" y="220" font-size="11.5" fill="#111" stroke="#111" stroke-width="0.15" text-anchor="start" font-weight="normal" >stand up</text>
<line x1="212.7" y1="203.1" x2="230" y2="203.1" stroke="#c37aa6" stroke-width="1.3" />
<text x="233.3" y="206.7" font-size="11.5" fill="#111" stroke="#111" stroke-width="0.15" text-anchor="start" font-weight="normal" >run</text>
<line x1="213.3" y1="216.4" x2="230.9" y2="216.4" stroke="#d8b64e" stroke-width="1.3" />
<text x="233.6" y="220" font-size="11.5" fill="#111" stroke="#111" stroke-width="0.15" text-anchor="start" font-weight="normal" >jump</text>
<polyline points="339.7,316.5 365.51,305.9 376.63,293.9 398.86,242.6 402.44,237.5 407.84,227.1 413.56,208.3 435.79,239.3 439.37,244.2 444.77,262.6 450.49,275.9 472.72,306.5 476.3,308.7 481.7,312.4 487.42,314.2" fill="none" stroke="#34a36a" stroke-width="0.95" stroke-linejoin="round" />
<rect x="338.1" y="314.9" width="3.2" height="3.2" fill="#34a36a"/>
<rect x="363.91" y="304.3" width="3.2" height="3.2" fill="#34a36a"/>
<rect x="375.03" y="292.3" width="3.2" height="3.2" fill="#34a36a"/>
<rect x="397.26" y="241" width="3.2" height="3.2" fill="#34a36a"/>
<rect x="400.84" y="235.9" width="3.2" height="3.2" fill="#34a36a"/>
<rect x="406.24" y="225.5" width="3.2" height="3.2" fill="#34a36a"/>
<rect x="411.96" y="206.7" width="3.2" height="3.2" fill="#34a36a"/>
<rect x="434.19" y="237.7" width="3.2" height="3.2" fill="#34a36a"/>
<rect x="437.77" y="242.6" width="3.2" height="3.2" fill="#34a36a"/>
<rect x="443.17" y="261" width="3.2" height="3.2" fill="#34a36a"/>
<rect x="448.89" y="274.3" width="3.2" height="3.2" fill="#34a36a"/>
<rect x="471.12" y="304.9" width="3.2" height="3.2" fill="#34a36a"/>
<rect x="474.7" y="307.1" width="3.2" height="3.2" fill="#34a36a"/>
<rect x="480.1" y="310.8" width="3.2" height="3.2" fill="#34a36a"/>
<rect x="485.82" y="312.6" width="3.2" height="3.2" fill="#34a36a"/>
<polyline points="339.7,319.8 365.51,309.4 376.63,296.6 398.86,248.2 402.44,238.2 407.84,217.2 413.56,210.1 435.79,234.9 439.37,233.1 444.77,254.4 450.49,269.5 472.72,308 476.3,310.2 481.7,313.1 487.42,316.4" fill="none" stroke="#2a6fd0" stroke-width="0.95" stroke-linejoin="round" />
<circle cx="339.7" cy="319.8" r="1.7" fill="#2a6fd0"/>
<circle cx="365.51" cy="309.4" r="1.7" fill="#2a6fd0"/>
<circle cx="376.63" cy="296.6" r="1.7" fill="#2a6fd0"/>
<circle cx="398.86" cy="248.2" r="1.7" fill="#2a6fd0"/>
<circle cx="402.44" cy="238.2" r="1.7" fill="#2a6fd0"/>
<circle cx="407.84" cy="217.2" r="1.7" fill="#2a6fd0"/>
<circle cx="413.56" cy="210.1" r="1.7" fill="#2a6fd0"/>
<circle cx="435.79" cy="234.9" r="1.7" fill="#2a6fd0"/>
<circle cx="439.37" cy="233.1" r="1.7" fill="#2a6fd0"/>
<circle cx="444.77" cy="254.4" r="1.7" fill="#2a6fd0"/>
<circle cx="450.49" cy="269.5" r="1.7" fill="#2a6fd0"/>
<circle cx="472.72" cy="308" r="1.7" fill="#2a6fd0"/>
<circle cx="476.3" cy="310.2" r="1.7" fill="#2a6fd0"/>
<circle cx="481.7" cy="313.1" r="1.7" fill="#2a6fd0"/>
<circle cx="487.42" cy="316.4" r="1.7" fill="#2a6fd0"/>
<polyline points="339.7,323.8 365.51,321 376.63,317.2 398.86,299.9 402.44,295.4 407.84,288.1 413.56,276.6 435.79,242.6 439.37,236 444.77,233.8 450.49,228.9 472.72,219.1 476.3,216.3 481.7,219.9 487.42,216.3" fill="none" stroke="#e23a3a" stroke-width="0.95" stroke-linejoin="round" />
<circle cx="339.7" cy="323.8" r="1.7" fill="#e23a3a"/>
<circle cx="365.51" cy="321" r="1.7" fill="#e23a3a"/>
<circle cx="376.63" cy="317.2" r="1.7" fill="#e23a3a"/>
<circle cx="398.86" cy="299.9" r="1.7" fill="#e23a3a"/>
<circle cx="402.44" cy="295.4" r="1.7" fill="#e23a3a"/>
<circle cx="407.84" cy="288.1" r="1.7" fill="#e23a3a"/>
<circle cx="413.56" cy="276.6" r="1.7" fill="#e23a3a"/>
<circle cx="435.79" cy="242.6" r="1.7" fill="#e23a3a"/>
<circle cx="439.37" cy="236" r="1.7" fill="#e23a3a"/>
<circle cx="444.77" cy="233.8" r="1.7" fill="#e23a3a"/>
<circle cx="450.49" cy="228.9" r="1.7" fill="#e23a3a"/>
<circle cx="472.72" cy="219.1" r="1.7" fill="#e23a3a"/>
<circle cx="476.3" cy="216.3" r="1.7" fill="#e23a3a"/>
<circle cx="481.7" cy="219.9" r="1.7" fill="#e23a3a"/>
<circle cx="487.42" cy="216.3" r="1.7" fill="#e23a3a"/>
<polyline points="339.7,317.6 365.51,314.7 376.63,311 398.86,292.6 402.44,288.1 407.84,278.4 413.56,268.5 435.79,230.5 439.37,218.9 444.77,216.1 450.49,210.2 472.72,210.3 476.3,208.8 481.7,207.1 487.42,210.3" fill="none" stroke="#111" stroke-width="0.95" stroke-linejoin="round" />
<rect x="338.1" y="316" width="3.2" height="3.2" fill="#111"/>
<rect x="363.91" y="313.1" width="3.2" height="3.2" fill="#111"/>
<rect x="375.03" y="309.4" width="3.2" height="3.2" fill="#111"/>
<rect x="397.26" y="291" width="3.2" height="3.2" fill="#111"/>
<rect x="400.84" y="286.5" width="3.2" height="3.2" fill="#111"/>
<rect x="406.24" y="276.8" width="3.2" height="3.2" fill="#111"/>
<rect x="411.96" y="266.9" width="3.2" height="3.2" fill="#111"/>
<rect x="434.19" y="228.9" width="3.2" height="3.2" fill="#111"/>
<rect x="437.77" y="217.3" width="3.2" height="3.2" fill="#111"/>
<rect x="443.17" y="214.5" width="3.2" height="3.2" fill="#111"/>
<rect x="448.89" y="208.6" width="3.2" height="3.2" fill="#111"/>
<rect x="471.12" y="208.7" width="3.2" height="3.2" fill="#111"/>
<rect x="474.7" y="207.2" width="3.2" height="3.2" fill="#111"/>
<rect x="480.1" y="205.5" width="3.2" height="3.2" fill="#111"/>
<rect x="485.82" y="208.7" width="3.2" height="3.2" fill="#111"/>
<line x1="328.8" y1="197.5" x2="498.5" y2="197.5" stroke="#777" stroke-width="1.3"/>
<line x1="328.8" y1="197.5" x2="328.8" y2="332.6" stroke="#222" stroke-width="1.3" />
<line x1="328.8" y1="332.6" x2="498.5" y2="332.6" stroke="#222" stroke-width="1.3" />
<line x1="498.5" y1="197.5" x2="498.5" y2="332.6" stroke="#3a6fb8" stroke-width="1.3" />
<line x1="339.7" y1="332.6" x2="339.7" y2="329.6" stroke="#222" stroke-width="1.1" />
<text x="340.4" y="345.1" font-size="10.5" fill="#222" stroke="#222" stroke-width="0.15" text-anchor="middle">10<tspan font-size="7" dy="-4.5">1</tspan></text>
<line x1="376.63" y1="332.6" x2="376.63" y2="329.6" stroke="#222" stroke-width="1.1" />
<text x="377.33" y="345.1" font-size="10.5" fill="#222" stroke="#222" stroke-width="0.15" text-anchor="middle">10<tspan font-size="7" dy="-4.5">2</tspan></text>
<line x1="413.56" y1="332.6" x2="413.56" y2="329.6" stroke="#222" stroke-width="1.1" />
<text x="414.26" y="345.1" font-size="10.5" fill="#222" stroke="#222" stroke-width="0.15" text-anchor="middle">10<tspan font-size="7" dy="-4.5">3</tspan></text>
<line x1="450.49" y1="332.6" x2="450.49" y2="329.6" stroke="#222" stroke-width="1.1" />
<text x="451.19" y="345.1" font-size="10.5" fill="#222" stroke="#222" stroke-width="0.15" text-anchor="middle">10<tspan font-size="7" dy="-4.5">4</tspan></text>
<line x1="487.42" y1="332.6" x2="487.42" y2="329.6" stroke="#222" stroke-width="1.1" />
<text x="488.12" y="345.1" font-size="10.5" fill="#222" stroke="#222" stroke-width="0.15" text-anchor="middle">10<tspan font-size="7" dy="-4.5">5</tspan></text>
<line x1="350.82" y1="332.6" x2="350.82" y2="331" stroke="#222" stroke-width="0.9" />
<line x1="357.32" y1="332.6" x2="357.32" y2="331" stroke="#222" stroke-width="0.9" />
<line x1="361.93" y1="332.6" x2="361.93" y2="331" stroke="#222" stroke-width="0.9" />
<line x1="365.51" y1="332.6" x2="365.51" y2="331" stroke="#222" stroke-width="0.9" />
<line x1="368.44" y1="332.6" x2="368.44" y2="331" stroke="#222" stroke-width="0.9" />
<line x1="370.91" y1="332.6" x2="370.91" y2="331" stroke="#222" stroke-width="0.9" />
<line x1="373.05" y1="332.6" x2="373.05" y2="331" stroke="#222" stroke-width="0.9" />
<line x1="374.94" y1="332.6" x2="374.94" y2="331" stroke="#222" stroke-width="0.9" />
<line x1="387.75" y1="332.6" x2="387.75" y2="331" stroke="#222" stroke-width="0.9" />
<line x1="394.25" y1="332.6" x2="394.25" y2="331" stroke="#222" stroke-width="0.9" />
<line x1="398.86" y1="332.6" x2="398.86" y2="331" stroke="#222" stroke-width="0.9" />
<line x1="402.44" y1="332.6" x2="402.44" y2="331" stroke="#222" stroke-width="0.9" />
<line x1="405.37" y1="332.6" x2="405.37" y2="331" stroke="#222" stroke-width="0.9" />
<line x1="407.84" y1="332.6" x2="407.84" y2="331" stroke="#222" stroke-width="0.9" />
<line x1="409.98" y1="332.6" x2="409.98" y2="331" stroke="#222" stroke-width="0.9" />
<line x1="411.87" y1="332.6" x2="411.87" y2="331" stroke="#222" stroke-width="0.9" />
<line x1="424.68" y1="332.6" x2="424.68" y2="331" stroke="#222" stroke-width="0.9" />
<line x1="431.18" y1="332.6" x2="431.18" y2="331" stroke="#222" stroke-width="0.9" />
<line x1="435.79" y1="332.6" x2="435.79" y2="331" stroke="#222" stroke-width="0.9" />
<line x1="439.37" y1="332.6" x2="439.37" y2="331" stroke="#222" stroke-width="0.9" />
<line x1="442.3" y1="332.6" x2="442.3" y2="331" stroke="#222" stroke-width="0.9" />
<line x1="444.77" y1="332.6" x2="444.77" y2="331" stroke="#222" stroke-width="0.9" />
<line x1="446.91" y1="332.6" x2="446.91" y2="331" stroke="#222" stroke-width="0.9" />
<line x1="448.8" y1="332.6" x2="448.8" y2="331" stroke="#222" stroke-width="0.9" />
<line x1="461.61" y1="332.6" x2="461.61" y2="331" stroke="#222" stroke-width="0.9" />
<line x1="468.11" y1="332.6" x2="468.11" y2="331" stroke="#222" stroke-width="0.9" />
<line x1="472.72" y1="332.6" x2="472.72" y2="331" stroke="#222" stroke-width="0.9" />
<line x1="476.3" y1="332.6" x2="476.3" y2="331" stroke="#222" stroke-width="0.9" />
<line x1="479.23" y1="332.6" x2="479.23" y2="331" stroke="#222" stroke-width="0.9" />
<line x1="481.7" y1="332.6" x2="481.7" y2="331" stroke="#222" stroke-width="0.9" />
<line x1="483.84" y1="332.6" x2="483.84" y2="331" stroke="#222" stroke-width="0.9" />
<line x1="485.73" y1="332.6" x2="485.73" y2="331" stroke="#222" stroke-width="0.9" />
<text x="414.3" y="354.7" font-size="9.8" fill="#111" stroke="#111" stroke-width="0.15" text-anchor="middle" font-weight="normal" >Resistance (Ω)</text>
<line x1="328.8" y1="318.3" x2="331.8" y2="318.3" stroke="#222" stroke-width="1.1" />
<text x="327" y="321.8" font-size="10" fill="#222" stroke="#222" stroke-width="0.15" text-anchor="end" font-weight="normal" >0</text>
<line x1="328.8" y1="290.02" x2="331.8" y2="290.02" stroke="#222" stroke-width="1.1" />
<text x="327" y="293.52" font-size="10" fill="#222" stroke="#222" stroke-width="0.15" text-anchor="end" font-weight="normal" >4</text>
<line x1="328.8" y1="261.74" x2="331.8" y2="261.74" stroke="#222" stroke-width="1.1" />
<text x="327" y="265.24" font-size="10" fill="#222" stroke="#222" stroke-width="0.15" text-anchor="end" font-weight="normal" >8</text>
<line x1="328.8" y1="233.46" x2="331.8" y2="233.46" stroke="#222" stroke-width="1.1" />
<text x="327" y="236.96" font-size="10" fill="#222" stroke="#222" stroke-width="0.15" text-anchor="end" font-weight="normal" >12</text>
<line x1="328.8" y1="205.18" x2="331.8" y2="205.18" stroke="#222" stroke-width="1.1" />
<text x="327" y="208.68" font-size="10" fill="#222" stroke="#222" stroke-width="0.15" text-anchor="end" font-weight="normal" >16</text>
<line x1="328.8" y1="304.16" x2="330.8" y2="304.16" stroke="#222" stroke-width="1.0" />
<line x1="328.8" y1="275.88" x2="330.8" y2="275.88" stroke="#222" stroke-width="1.0" />
<line x1="328.8" y1="247.6" x2="330.8" y2="247.6" stroke="#222" stroke-width="1.0" />
<line x1="328.8" y1="219.32" x2="330.8" y2="219.32" stroke="#222" stroke-width="1.0" />
<text transform="translate(315.3,261) rotate(-90)" font-size="10" fill="#111" stroke="#111" stroke-width="0.15" text-anchor="middle">Peak Voltage (V)</text>
<line x1="300.2" y1="197.5" x2="300.2" y2="332.6" stroke="#d84a4a" stroke-width="1.1" />
<line x1="300.2" y1="324.3" x2="303" y2="324.3" stroke="#d84a4a" stroke-width="1.0" />
<text x="297.8" y="327.8" font-size="10" fill="#d84a4a" stroke="#d84a4a" stroke-width="0.15" text-anchor="end" font-weight="normal" >0</text>
<line x1="300.2" y1="292.75" x2="303" y2="292.75" stroke="#d84a4a" stroke-width="1.0" />
<text x="297.8" y="296.25" font-size="10" fill="#d84a4a" stroke="#d84a4a" stroke-width="0.15" text-anchor="end" font-weight="normal" >1</text>
<line x1="300.2" y1="261.2" x2="303" y2="261.2" stroke="#d84a4a" stroke-width="1.0" />
<text x="297.8" y="264.7" font-size="10" fill="#d84a4a" stroke="#d84a4a" stroke-width="0.15" text-anchor="end" font-weight="normal" >2</text>
<line x1="300.2" y1="229.65" x2="303" y2="229.65" stroke="#d84a4a" stroke-width="1.0" />
<text x="297.8" y="233.15" font-size="10" fill="#d84a4a" stroke="#d84a4a" stroke-width="0.15" text-anchor="end" font-weight="normal" >3</text>
<line x1="300.2" y1="198.1" x2="303" y2="198.1" stroke="#d84a4a" stroke-width="1.0" />
<text x="297.8" y="201.6" font-size="10" fill="#d84a4a" stroke="#d84a4a" stroke-width="0.15" text-anchor="end" font-weight="normal" >4</text>
<line x1="300.2" y1="308.53" x2="302" y2="308.53" stroke="#d84a4a" stroke-width="0.9" />
<line x1="300.2" y1="276.98" x2="302" y2="276.98" stroke="#d84a4a" stroke-width="0.9" />
<line x1="300.2" y1="245.43" x2="302" y2="245.43" stroke="#d84a4a" stroke-width="0.9" />
<line x1="300.2" y1="213.88" x2="302" y2="213.88" stroke="#d84a4a" stroke-width="0.9" />
<text transform="translate(290.0,260) rotate(-90)" font-size="10" fill="#d84a4a" stroke="#d84a4a" stroke-width="0.15" text-anchor="middle">RMS Voltage (V)</text>
<line x1="498.5" y1="321" x2="495.5" y2="321" stroke="#3a6fb8" stroke-width="1.1" />
<text x="500.5" y="324.5" font-size="10" fill="#3a6fb8" stroke="#3a6fb8" stroke-width="0.15" text-anchor="start" font-weight="normal" >0</text>
<line x1="498.5" y1="298.54" x2="495.5" y2="298.54" stroke="#3a6fb8" stroke-width="1.1" />
<text x="500.5" y="302.04" font-size="10" fill="#3a6fb8" stroke="#3a6fb8" stroke-width="0.15" text-anchor="start" font-weight="normal" >10</text>
<line x1="498.5" y1="276.08" x2="495.5" y2="276.08" stroke="#3a6fb8" stroke-width="1.1" />
<text x="500.5" y="279.58" font-size="10" fill="#3a6fb8" stroke="#3a6fb8" stroke-width="0.15" text-anchor="start" font-weight="normal" >20</text>
<line x1="498.5" y1="253.62" x2="495.5" y2="253.62" stroke="#3a6fb8" stroke-width="1.1" />
<text x="500.5" y="257.12" font-size="10" fill="#3a6fb8" stroke="#3a6fb8" stroke-width="0.15" text-anchor="start" font-weight="normal" >30</text>
<line x1="498.5" y1="231.16" x2="495.5" y2="231.16" stroke="#3a6fb8" stroke-width="1.1" />
<text x="500.5" y="234.66" font-size="10" fill="#3a6fb8" stroke="#3a6fb8" stroke-width="0.15" text-anchor="start" font-weight="normal" >40</text>
<line x1="498.5" y1="208.7" x2="495.5" y2="208.7" stroke="#3a6fb8" stroke-width="1.1" />
<text x="500.5" y="212.2" font-size="10" fill="#3a6fb8" stroke="#3a6fb8" stroke-width="0.15" text-anchor="start" font-weight="normal" >50</text>
<line x1="498.5" y1="309.77" x2="496.5" y2="309.77" stroke="#3a6fb8" stroke-width="1.0" />
<line x1="498.5" y1="287.31" x2="496.5" y2="287.31" stroke="#3a6fb8" stroke-width="1.0" />
<line x1="498.5" y1="264.85" x2="496.5" y2="264.85" stroke="#3a6fb8" stroke-width="1.0" />
<line x1="498.5" y1="242.39" x2="496.5" y2="242.39" stroke="#3a6fb8" stroke-width="1.0" />
<line x1="498.5" y1="219.93" x2="496.5" y2="219.93" stroke="#3a6fb8" stroke-width="1.0" />
<text transform="translate(515.5,264.2) rotate(90)" font-size="10.5" fill="#3a6fb8" stroke="#3a6fb8" stroke-width="0.15" text-anchor="middle">Peak Power (mW)</text>
<line x1="525.9" y1="197.5" x2="525.9" y2="332.6" stroke="#5aaa7a" stroke-width="1.1" />
<line x1="525.9" y1="319.9" x2="523.5" y2="319.9" stroke="#5aaa7a" stroke-width="1.0" />
<line x1="525.9" y1="271.3" x2="523.5" y2="271.3" stroke="#5aaa7a" stroke-width="1.0" />
<line x1="525.9" y1="222.7" x2="523.5" y2="222.7" stroke="#5aaa7a" stroke-width="1.0" />
<line x1="525.9" y1="295.6" x2="524.3" y2="295.6" stroke="#5aaa7a" stroke-width="0.9" />
<line x1="525.9" y1="247" x2="524.3" y2="247" stroke="#5aaa7a" stroke-width="0.9" />
<text transform="translate(529.0,222.7) rotate(90)" font-size="9.5" fill="#5aaa7a" stroke="#5aaa7a" stroke-width="0.15" text-anchor="middle">2</text>
<text transform="translate(529.0,271.3) rotate(90)" font-size="9.5" fill="#5aaa7a" stroke="#5aaa7a" stroke-width="0.15" text-anchor="middle">1</text>
<text x="531.2" y="323.4" font-size="10" fill="#5aaa7a" stroke="#5aaa7a" stroke-width="0.15" text-anchor="middle" font-weight="normal" >0</text>
<text transform="translate(537.0,263.2) rotate(90)" font-size="10.5" fill="#5aaa7a" stroke="#5aaa7a" stroke-width="0.15" text-anchor="middle">RMS Power (mW)</text>
<text x="275.8" y="191.6" font-size="13.5" fill="#111" text-anchor="start" font-weight="bold" >(d)</text>
</svg></body></html>
